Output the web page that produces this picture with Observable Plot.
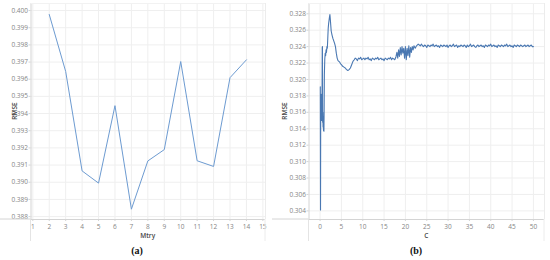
<!DOCTYPE html>
<html>
<head>
<meta charset="utf-8">
<script src="https://cdn.jsdelivr.net/npm/d3@7"></script>
<script src="https://cdn.jsdelivr.net/npm/@observablehq/plot@0.6"></script>
<style>
  html, body { margin: 0; padding: 0; background: #fff; }
  #wrap { position: relative; width: 550px; height: 260px; overflow: hidden; font-family: "Open Sans", sans-serif; }
  .panel { position: absolute; top: 0; }
  .cap { position: absolute; font-family: "Liberation Serif", serif; font-weight: bold; font-size: 10px; color: #111; transform: translateX(-50%); }
</style>
</head>
<body>
<div id="wrap">
  <div class="panel" id="pa" style="left:0px"></div>
  <div class="panel" id="pb" style="left:272px"></div>
  <div class="cap" style="left:137px; top:245px">(a)</div>
  <div class="cap" style="left:416px; top:245px">(b)</div>
</div>
<script>
// Panel (a): RMSE vs Mtry
const mtry  = [2, 3, 4, 5, 6, 7, 8, 9, 10, 11, 12, 13, 14];
const rmseA = [0.39977, 0.39645, 0.39066, 0.38995, 0.39446, 0.38843, 0.39124, 0.39190, 0.39703, 0.39125, 0.39092, 0.39609, 0.39713];
const ticksAx = [1, 2, 3, 4, 5, 6, 7, 8, 9, 10, 11, 12, 13, 14, 15];
const ticksAy = [0.388, 0.389, 0.390, 0.391, 0.392, 0.393, 0.394, 0.395, 0.396, 0.397, 0.398, 0.399, 0.400];

// Panel (b): RMSE vs C
const cVals = [0.05,0.1,0.15,0.2,0.25,0.3,0.35,0.4,0.45,0.5,0.55,0.6,0.65,0.7,0.75,0.8,0.85,0.9,0.95,1.0,
  1.1,1.2,1.3,1.4,1.5,1.6,1.7,1.8,1.9,2.0,2.1,2.2,2.3,2.4,2.5,2.6,2.8,3.0,3.2,3.4,3.6,3.8,4.0,4.2,4.4,4.6,4.8,5.0,
  5.3,5.6,5.9,6.2,6.5,6.8,7.1,7.4,7.7,
  8,8.25,8.5,8.75,9,9.25,9.5,9.75,10,10.25,10.5,10.75,11,11.25,11.5,11.75,12,12.25,12.5,12.75,
  13,13.25,13.5,13.75,14,14.25,14.5,14.75,15,15.25,15.5,15.75,16,16.25,16.5,16.75,17,17.25,17.5,17.75,
  17.8,18.0,18.2,18.4,18.6,18.8,19.0,19.2,19.4,19.6,19.8,20.0,20.2,20.4,20.6,20.8,21.0,21.2,21.4,21.6,21.8,22.0,22.3,22.6,
  23,23.25,23.5,23.75,24,24.25,24.5,24.75,25,25.25,25.5,25.75,26,26.25,26.5,26.75,27,27.25,27.5,27.75,
  28,28.25,28.5,28.75,29,29.25,29.5,29.75,30,30.25,30.5,30.75,31,31.25,31.5,31.75,32,32.25,32.5,32.75,
  33,33.25,33.5,33.75,34,34.25,34.5,34.75,35,35.25,35.5,35.75,36,36.25,36.5,36.75,37,37.25,37.5,37.75,
  38,38.25,38.5,38.75,39,39.25,39.5,39.75,40,40.25,40.5,40.75,41,41.25,41.5,41.75,42,42.25,42.5,42.75,
  43,43.25,43.5,43.75,44,44.25,44.5,44.75,45,45.25,45.5,45.75,46,46.25,46.5,46.75,47,47.25,47.5,47.75,
  48,48.25,48.5,48.75,49,49.25,49.5,49.75,50];
const rmseB = [0.3191,0.3041,0.3175,0.3158,0.3182,0.3160,0.3150,0.3172,0.3168,0.3239,0.3240,0.3148,0.3160,0.3142,0.3155,0.3138,0.3150,0.3137,0.3165,0.3205,
  0.3225,0.3232,0.3229,0.3236,0.3233,0.3240,0.3238,0.3250,0.3262,0.3268,0.3272,0.3276,0.3279,0.3273,0.3266,0.3259,0.3254,0.3250,0.3247,0.3244,0.3240,0.3232,0.3226,0.3223,0.3222,0.3221,0.3219,0.3218,
  0.3216,0.3215,0.3214,0.3212,0.3211,0.3212,0.3214,0.3218,0.3222,
  0.3224,0.3226,0.3225,0.3223,0.3226,0.3225,0.3227,0.3224,0.3225,0.3226,0.3224,0.3226,0.3225,0.3227,0.3224,0.3225,0.3223,0.3226,0.3225,0.3224,
  0.3226,0.3225,0.3227,0.3224,0.3225,0.3226,0.3224,0.3225,0.3223,0.3226,0.3225,0.3224,0.3226,0.3225,0.3227,0.3224,0.3226,0.3225,0.3224,0.3227,
  0.3228,0.3233,0.3226,0.3236,0.3228,0.3239,0.3230,0.3240,0.3232,0.3238,0.3226,0.3240,0.3224,0.3238,0.3229,0.3241,0.3227,0.3239,0.3233,0.3240,0.3236,0.3241,0.3238,0.3241,
  0.3243,0.3242,0.3241,0.3243,0.3241,0.3240,0.3242,0.3241,0.3239,0.3242,0.3241,0.3240,0.3242,0.3241,0.3243,0.3240,0.3241,0.3242,0.3240,0.3241,
  0.3239,0.3242,0.3241,0.3240,0.3242,0.3241,0.3240,0.3242,0.3239,0.3241,0.3242,0.3240,0.3241,0.3243,0.3240,0.3241,0.3242,0.3239,0.3241,0.3240,
  0.3242,0.3241,0.3240,0.3242,0.3241,0.3239,0.3242,0.3240,0.3241,0.3243,0.3240,0.3241,0.3242,0.3240,0.3239,0.3241,0.3242,0.3240,0.3241,0.3242,
  0.3240,0.3241,0.3239,0.3242,0.3241,0.3240,0.3242,0.3241,0.3243,0.3240,0.3241,0.3242,0.3240,0.3241,0.3239,0.3242,0.3241,0.3240,0.3242,0.3241,
  0.3240,0.3242,0.3241,0.3243,0.3240,0.3241,0.3242,0.3240,0.3241,0.3239,0.3242,0.3241,0.3240,0.3242,0.3241,0.3240,0.3242,0.3241,0.3240,0.3241,
  0.3242,0.3240,0.3241,0.3242,0.3240,0.3241,0.3242,0.3240,0.3240];
const ticksBx = [0, 5, 10, 15, 20, 25, 30, 35, 40, 45, 50];
const ticksBy = [0.304, 0.306, 0.308, 0.310, 0.312, 0.314, 0.316, 0.318, 0.320, 0.322, 0.324, 0.326, 0.328];

const dataA = mtry.map((m, i) => ({x: m, y: rmseA[i]}));
const dataB = cVals.map((c, i) => ({x: c, y: rmseB[i]}));

const gridC = "#efefef", axisC = "#d4d4d4", tickC = "#858585";

function panel(opts) {
  const {data, width, height, mL, mR, mT, mB, xDom, yDom, xt, yt, color, sw, xLabel, yLabelX} = opts;
  const p = Plot.plot({
    width, height, marginLeft: mL, marginRight: mR, marginTop: mT, marginBottom: mB,
    style: {fontFamily: "'Open Sans', sans-serif", fontSize: "6.5px", color: tickC, background: "white", overflow: "visible"},
    x: {domain: xDom},
    y: {domain: yDom},
    marks: [
      Plot.gridX(xt, {stroke: gridC, strokeOpacity: 1}),
      Plot.gridY(yt, {stroke: gridC, strokeOpacity: 1}),
      Plot.axisX(xt, {tickSize: 2, tickPadding: 3, stroke: axisC, fill: tickC, label: null}),
      Plot.axisY(yt, {tickSize: 2, tickPadding: 1, stroke: axisC, fill: tickC, tickFormat: d3.format(".3f"), label: null}),
      Plot.ruleY([yDom[0]], {stroke: axisC}),
      Plot.ruleX([xDom[0]], {stroke: axisC}),
      Plot.ruleX([xDom[1]], {stroke: "#ececec"}),
      Plot.ruleY([yDom[1]], {stroke: "#f2f2f2"}),
      Plot.line(data, {x: "x", y: "y", stroke: color, strokeWidth: sw})
    ]
  });
  const svg = d3.select(p);
  const xs = p.scale("x"), ys = p.scale("y");
  const x0 = xs.apply(xDom[0]), x1 = xs.apply(xDom[1]), yb = ys.apply(yDom[0]);
  // divider lines below the axis (Tableau style)
  svg.append("line").attr("x1", x0).attr("x2", x0).attr("y1", yb).attr("y2", height).attr("stroke", "#e4e4e4");
  svg.append("line").attr("x1", x1).attr("x2", x1).attr("y1", yb).attr("y2", height).attr("stroke", "#ececec");
  svg.append("line").attr("x1", 0).attr("x2", x0).attr("y1", yb).attr("y2", yb).attr("stroke", axisC);
  // axis titles
  svg.append("text").attr("x", (x0 + x1) / 2).attr("y", yb + 19).attr("text-anchor", "middle")
    .attr("font-size", 6.5).attr("font-weight", 600).attr("fill", "#444").text(xLabel);
  svg.append("text").attr("transform", `translate(${yLabelX},${(mT + yb) / 2}) rotate(-90)`)
    .attr("text-anchor", "middle").attr("font-size", 6.5).attr("font-weight", 600).attr("fill", "#444").text("RMSE");
  return p;
}

document.getElementById("pa").appendChild(panel({
  data: dataA, width: 272, height: 241, mL: 30.5, mR: 7, mT: 3, mB: 22,
  xDom: [0.89, 15.16], yDom: [0.38783, 0.40041], xt: ticksAx, yt: ticksAy,
  color: "#6d9bd1", sw: 1, xLabel: "Mtry", yLabelX: 17
}));
document.getElementById("pb").appendChild(panel({
  data: dataB, width: 278, height: 241, mL: 36.5, mR: 6, mT: 3, mB: 22,
  xDom: [-2.6, 52.6], yDom: [0.30295, 0.32925], xt: ticksBx, yt: ticksBy,
  color: "#4a78b2", sw: 1.1, xLabel: "C", yLabelX: 15
}));
</script>
</body>
</html>
